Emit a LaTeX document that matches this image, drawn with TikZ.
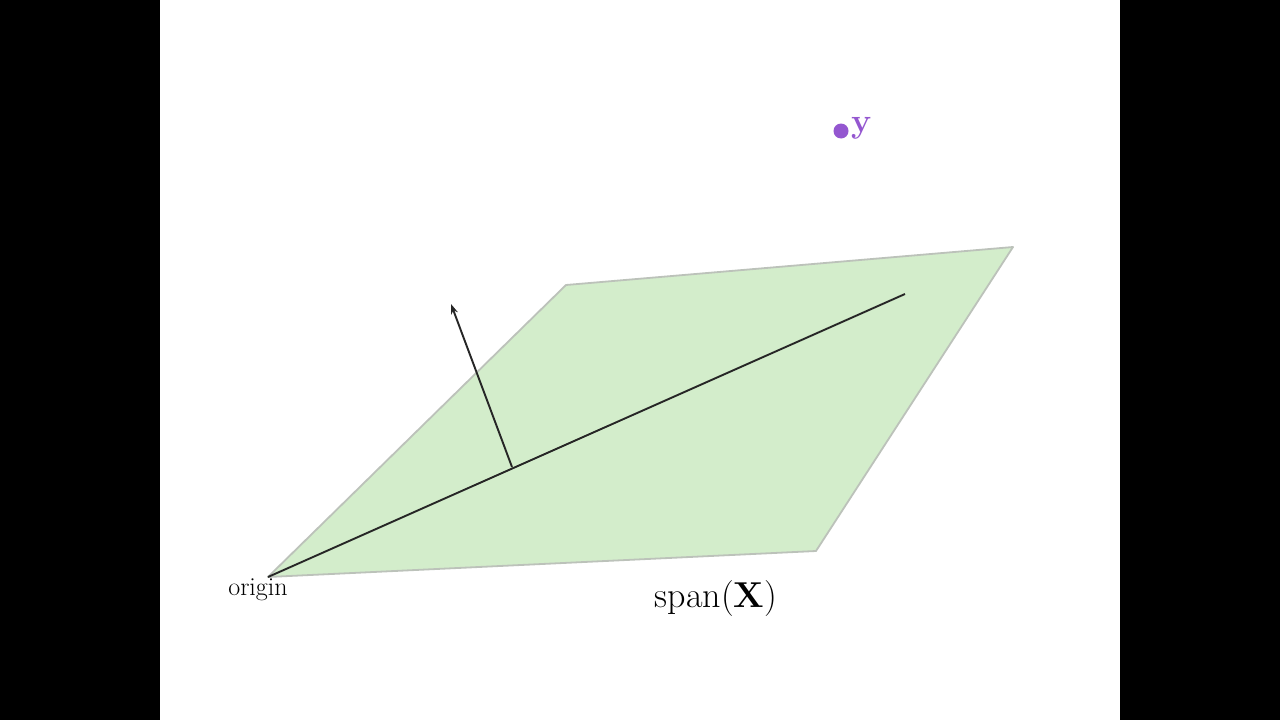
\documentclass[tikz,border=0pt]{standalone}
\usetikzlibrary{arrows.meta}
\definecolor{planegreen}{HTML}{D3EDCB}
\definecolor{planeedge}{HTML}{BCC2BA}
\definecolor{ypurple}{HTML}{9457D0}
\tikzset{
  plane/.style={fill=planegreen, draw=planeedge, line width=1.8pt, line join=round},
  vecline/.style={draw=black!85, line width=1.9pt},
  lbl/.style={inner sep=0pt, text=black}
}
\begin{document}
\begin{tikzpicture}[x=1pt,y=-1pt]
\useasboundingbox (0,0) rectangle (1280,720);
\fill[white] (0,0) rectangle (1280,720);
\fill[black] (0,0) rectangle (160,720);
\fill[black] (1120,0) rectangle (1280,720);
\coordinate (o) at (268,577);
\coordinate (p2) at (566,285);
\coordinate (p3) at (1013,247);
\coordinate (p4) at (816,551);
\coordinate (lend) at (905,294);
\coordinate (foot) at (512,467);
\coordinate (tip) at (451,304);
\path[plane] (o) -- (p2) -- (p3) -- (p4) -- cycle;
\draw[vecline] (o) -- (lend);
\draw[vecline, -{Stealth[length=10pt,width=7pt]}] (foot) -- (tip);
\node[circle, fill=ypurple, minimum size=15pt, inner sep=0pt] (ydot) at (841,131) {};
\node[lbl, text=ypurple, anchor=west, font=\fontsize{34}{40}\selectfont\bfseries] (ylab) at (851,128) {y};
\node[lbl, font=\fontsize{26}{30}\selectfont] (orig) at (258,590) {origin};
\node[lbl, font=\fontsize{36}{42}\selectfont] (span) at (716,599) {span(\textbf{X})};
\end{tikzpicture}
\end{document}
